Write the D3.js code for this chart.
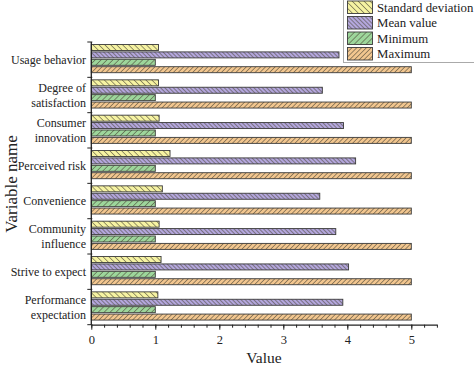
<!DOCTYPE html>
<html><head><meta charset="utf-8">
<script src="https://cdn.jsdelivr.net/npm/d3@7"></script>
<style>body{margin:0;background:#fff}svg{display:block;font-family:"Liberation Serif","Times New Roman",serif}</style>
</head><body><svg id="c" width="474" height="368"></svg>
<script>
const categories = [["Usage behavior"],["Degree of","satisfaction"],["Consumer","innovation"],["Perceived risk"],["Convenience"],["Community","influence"],["Strive to expect"],["Performance","expectation"]];
const seriesNames = ["Standard deviation","Mean value","Minimum","Maximum"];
const sdValues   = [1.05, 1.05, 1.06, 1.23, 1.11, 1.06, 1.09, 1.04];
const meanValues = [3.87, 3.61, 3.94, 4.13, 3.57, 3.82, 4.02, 3.93];
const minValues  = [1, 1, 1, 1, 1, 1, 1, 1];
const maxValues  = [5, 5, 5, 5, 5, 5, 5, 5];
const xTicks = [0,1,2,3,4,5];
const fills = ["#f6f3a2","#b4a7de","#9dd69b","#f2c68f"];
const hatch = [{angle:-45,gap:4.2},{angle:-45,gap:3},{angle:45,gap:4.2},{angle:45,gap:3.4}];

const seriesData = [sdValues, meanValues, minValues, maxValues];
const FF = "Liberation Serif";
const svg = d3.select("#c");
const defs = svg.append("defs");
hatch.forEach((h,i)=>{
  const p = defs.append("pattern").attr("id","h"+i).attr("patternUnits","userSpaceOnUse")
    .attr("width",h.gap).attr("height",h.gap).attr("patternTransform",`rotate(${h.angle})`);
  p.append("rect").attr("width",h.gap).attr("height",h.gap).attr("fill",fills[i]);
  p.append("line").attr("x1",0).attr("y1",0).attr("x2",0).attr("y2",h.gap).attr("stroke","#4a4536").attr("stroke-width",1.1);
});

const pL = 91.3, pR = 436.9, pT = 42, pB = 324.7;
const x = d3.scaleLinear().domain([0,5.4]).range([pL,pR]);
const y = d3.scaleBand().domain(d3.range(categories.length)).range([pT,pB]).padding(0);
const ys = d3.scaleBand().domain(d3.range(4)).range([2.5,30.7]).paddingInner(0.19);

const g = svg.append("g");
categories.forEach((c,ci)=>{
  seriesData.forEach((vals,si)=>{
    g.append("rect").attr("x",x(0)).attr("y",y(ci)+ys(si))
      .attr("width",x(vals[ci])-x(0)).attr("height",ys.bandwidth())
      .attr("fill",`url(#h${si})`).attr("stroke","#3a3a3a").attr("stroke-width",0.9);
  });
});

// bottom axis
const xa = svg.append("g").attr("transform",`translate(0,${pB})`);
xa.call(d3.axisBottom(x).tickValues(d3.range(0,5.41,0.2)).tickSize(3).tickFormat(""));
xa.call(g2=>g2.select(".domain").remove());
const xb = svg.append("g").attr("transform",`translate(0,${pB})`);
xb.call(d3.axisBottom(x).tickValues(xTicks).tickSize(5).tickSizeOuter(0).tickPadding(5).tickFormat(d3.format("d")));
xb.attr("font-family",FF);
xb.selectAll("text").attr("font-size",12.5).attr("fill","#222");
svg.selectAll(".tick line").attr("stroke","#222");
xb.select(".domain").attr("stroke","#222").attr("stroke-width",1.3);

// left axis
const yl = svg.append("g");
yl.append("line").attr("x1",pL).attr("x2",pL).attr("y1",pT).attr("y2",pB).attr("stroke","#222").attr("stroke-width",1.3);
yl.selectAll("line.t").data(d3.range(categories.length+1)).join("line").attr("class","t")
  .attr("x1",pL-4).attr("x2",pL+1).attr("y1",d=>pT+d*y.step()).attr("y2",d=>pT+d*y.step()).attr("stroke","#222");
categories.forEach((c,ci)=>{
  const cy = y(ci)+y.bandwidth()/2;
  const t = svg.append("text").attr("text-anchor","end").attr("font-family",FF).attr("font-size",12).attr("fill","#222");
  c.forEach((line,li)=>{
    t.append("tspan").attr("x",86).attr("y",cy+(li-(c.length-1)/2)*15+4).text(line);
  });
});

svg.append("text").attr("x",264).attr("y",363).attr("text-anchor","middle").attr("font-family",FF).attr("font-size",15.5).attr("fill","#222").text("Value");
svg.append("text").attr("transform","translate(17,184) rotate(-90)").attr("text-anchor","middle").attr("font-family",FF).attr("font-size",17).attr("fill","#222").text("Variable name");

// legend
const lg = svg.append("g");
lg.append("rect").attr("x",343.5).attr("y",-2).attr("width",140).attr("height",64.5).attr("fill","#fff").attr("stroke","#aaa").attr("stroke-width",1);
seriesNames.forEach((n,i)=>{
  const yy = 1+i*15.5;
  lg.append("rect").attr("x",347.5).attr("y",yy).attr("width",25).attr("height",12.5)
    .attr("fill",`url(#h${i})`).attr("stroke","#3a3a3a").attr("stroke-width",0.9);
  lg.append("text").attr("x",377).attr("y",yy+10.5).attr("font-family",FF).attr("font-size",12.8).attr("fill","#222").text(n);
});
</script></body></html>
